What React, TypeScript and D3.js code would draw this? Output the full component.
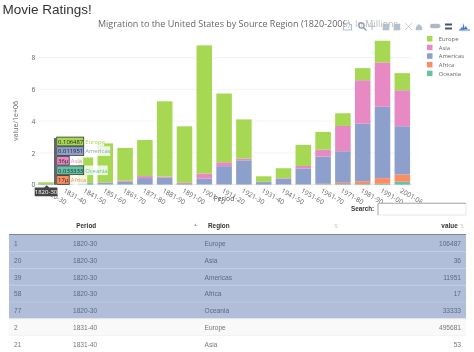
import React from "react";
import * as d3 from "d3";

const periods = ["1820-30","1831-40","1841-50","1851-60","1861-70","1871-80","1881-90","1891-00","1901-10","1911-20","1921-30","1931-40","1941-50","1951-60","1961-70","1971-80","1981-90","1991-00","2001-06"];
const europe = [106487,495681,1597442,2452577,2065141,2271925,4735484,3555352,8056040,4321887,2463194,347566,621147,1325727,1123492,800368,761550,1359737,1073726];
const asia = [36,53,141,41538,64759,124160,69942,74862,323543,247236,112059,16595,37028,153249,427642,1588178,2738157,2795672,2265696];
const americas = [11951,33424,62469,74720,166607,404044,426967,38972,361888,1143671,1516716,160037,354804,996944,1716374,1982735,3615225,4486806,3037000];
const africa = [17,54,55,210,312,358,857,350,7368,8443,6286,1750,7367,14092,28954,80779,176893,354939,450000];
const oceania = [33333,69911,53144,29169,17969,11935,12574,3965,13024,13427,8726,2483,14551,12976,25122,41242,41432,55845,190000];

const regions = ["Europe","Asia","Americas","Africa","Oceania"];
const regionColors = ["#a6d854","#e78ac3","#8da0cb","#fc8d62","#66c2a5"];
const stackOrder = ["Oceania","Africa","Americas","Asia","Europe"];
const seriesByRegion: Record<string, number[]> = { Europe: europe, Asia: asia, Americas: americas, Africa: africa, Oceania: oceania };
const yTicks = [0,2,4,6,8];
const tooltipOrder = ["Europe","Americas","Asia","Oceania","Africa"];

const tableIds = [1,20,39,58,77,2,21];
const tablePeriods = ["1820-30","1820-30","1820-30","1820-30","1820-30","1831-40","1831-40"];
const tableRegions = ["Europe","Asia","Americas","Africa","Oceania","Europe","Asia"];
const tableValues = [106487,36,11951,17,33333,495681,53];

const plotFont = "'Open Sans', 'DejaVu Sans', sans-serif";
const tableFont = "'Liberation Sans', Arial, sans-serif";
const colorOf = d3.scaleOrdinal<string, string>().domain(regions).range(regionColors);

const x = d3.scaleBand<string>().domain(periods).range([36, 412.2]).paddingInner(0.215).paddingOuter(0.107);
const y = d3.scaleLinear().domain([0, 8]).range([184.7, 57.5]);
const rows = periods.map((p, i) => {
  const o: Record<string, number | string> = { period: p };
  regions.forEach((r) => { o[r] = seriesByRegion[r][i]; });
  return o;
});
const stacked = d3.stack<any>().keys(stackOrder)(rows);
const fmtHover = (v: number) => (v < 1000 ? `${v}µ` : (v / 1e6).toFixed(6));
const tipBoxW: Record<string, number> = { Europe: 27, Americas: 27, Asia: 12.5, Oceania: 27, Africa: 12.5 };
const tipLabelW: Record<string, number> = { Europe: 20.5, Americas: 26.5, Asia: 14, Oceania: 24, Africa: 18 };

function Tooltip() {
  const left = 56.7;
  const top = 136.7;
  const h = 9.6;
  return (
    <g fontFamily={plotFont} fontSize={5.9}>
      <line x1={55} x2={55} y1={138} y2={184.7} stroke="#111" strokeWidth={1.3} />
      {tooltipOrder.map((r, i) => {
        const v = seriesByRegion[r][0];
        const yy = top + i * h;
        return (
          <g key={r}>
            <rect x={left + tipBoxW[r]} y={yy} width={tipLabelW[r]} height={h} fill="#fff" fillOpacity={0.8} />
            <rect x={left} y={yy + 0.4} width={tipBoxW[r]} height={h - 0.8} fill={colorOf(r)} stroke="#333" strokeWidth={0.8} />
            <text x={left + 1.4} y={yy + 7} fill="#222">{fmtHover(v)}</text>
            <text x={left + tipBoxW[r] + 1.5} y={yy + 7} fill={colorOf(r)}>{r}</text>
          </g>
        );
      })}
      <path d="M46.7 185.3 l2.5 2.2 h8.2 v8.7 h-22.7 v-8.7 h9.5 z" fill="#444" />
      <text x={46} y={194} textAnchor="middle" fill="#fff" fontSize={6}>{periods[0]}</text>
    </g>
  );
}

function ModeBar() {
  const c = "#b4c0d0";
  return (
    <g>
      <rect x={345} y={19} width={128} height={14} fill="#fff" fillOpacity={0.55} />
      <g fill={c} stroke={c}>
        <path d="M343.5 24.5 h2 l1 -1.5 h2 l1 1.5 h2 v5.5 h-8 z" fill="none" strokeWidth={1.2} />
        <circle cx={361.5} cy={25.5} r={2.6} fill="none" stroke="#8a98aa" strokeWidth={1.2} />
        <path d="M363.5 27.5 l3 3" stroke="#8a98aa" strokeWidth={1.3} />
        <path d="M372 23 v7 M368.5 26.5 h7" strokeWidth={1} />
        <rect x={383} y={24} width={6} height={6} strokeWidth={0.6} />
        <rect x={394} y={24} width={6} height={6} strokeWidth={0.6} />
        <path d="M405 23 l7 7 M412 23 l-7 7" strokeWidth={0.7} fill="none" />
        <path d="M416 27 l3 -3 l3 3 v3 h-6 z" strokeWidth={0.4} />
        <path d="M431 24 h8 l1.5 2 l-1.5 2 h-8 l-1 -2 z" strokeWidth={0.4} fill="#aeb7c2" stroke="#aeb7c2" />
        <rect x={445} y={23.5} width={7} height={2} fill="#44566c" stroke="none" />
        <rect x={445} y={27.5} width={7} height={2} fill="#44566c" stroke="none" />
      </g>
      <path d="M460 30 l1.5 -3 l1 1 l1 -5 l1 5 l1.5 -2 l1 2 l1 1 z" fill="#447adb" />
      <path d="M459 30 h11" stroke="#447adb" strokeWidth={1} />
    </g>
  );
}

function Chart() {
  return (
    <g>
      {yTicks.map((t) => (
        <g key={t} fontFamily={plotFont}>
          <line x1={36} x2={412.2} y1={y(t)} y2={y(t)} stroke={t === 0 ? "#e8e8e8" : "#f3f3f3"} strokeWidth={1} />
          <text x={35.5} y={y(t) + 2.6} textAnchor="end" fontSize={6.8} fill="#666">{t}</text>
        </g>
      ))}
      {stacked.map((s) => (
        <g key={s.key} fill={colorOf(s.key)}>
          {s.map((d: any) => (
            <rect key={d.data.period} x={x(d.data.period)} width={x.bandwidth()} y={y(d[1] / 1e6)} height={Math.max(0, y(d[0] / 1e6) - y(d[1] / 1e6))} />
          ))}
        </g>
      ))}
      {periods.map((p) => (
        <text key={p} transform={`translate(${(x(p) as number) + x.bandwidth() / 2 - 2.8},192) rotate(30)`} fontFamily={plotFont} fontSize={6.7} fill="#666">{p}</text>
      ))}
      <text x={224} y={200.5} textAnchor="middle" fontFamily={plotFont} fontSize={6.8} fill="#555">Period</text>
      <text transform="translate(18,121) rotate(-90)" textAnchor="middle" fontFamily={plotFont} fontSize={7} fill="#666">value/1e+06</text>
      <text x={98} y={26.5} fontFamily={plotFont} fontSize={9} fill="#666">Migration to the United States by Source Region (1820-2006), In Millions</text>
      {regions.map((r, i) => (
        <g key={r}>
          <rect x={427} y={36 + i * 8.65} width={5.5} height={5.5} fill={colorOf(r)} />
          <text x={438.7} y={41 + i * 8.65} fontFamily={plotFont} fontSize={5.9} fill="#666">{r}</text>
        </g>
      ))}
      <ModeBar />
      <Tooltip />
    </g>
  );
}

function DataTable() {
  const top = 235;
  const rowH = 16.75;
  const cols = { id: 14, period: 73, region: 204.5, value: 461 };
  return (
    <g fontFamily={tableFont} fontSize={6.6}>
      <text x={351} y={210.5} fontWeight={700} fill="#333" fontSize={6.3}>Search:</text>
      <rect x={378} y={203.5} width={88} height={11.5} fill="#fff" stroke="#e0e0e0" strokeWidth={0.8} />
      <line x1={378} x2={466} y1={203.2} y2={203.2} stroke="#aaa" strokeWidth={1} />
      <line x1={378} x2={378} y1={203.5} y2={215} stroke="#999" strokeWidth={0.8} />
      <g fontWeight={700} fill="#333" fontSize={6.4}>
        <text x={76.3} y={228}>Period</text>
        <text x={208} y={228}>Region</text>
        <text x={457.7} y={228} textAnchor="end">value</text>
      </g>
      <g fontSize={4.5} fill="#999" textAnchor="middle">
        <text x={195.5} y={226}>▲</text>
        <text x={335.5} y={228} fill="#ccc">⇅</text>
        <text x={462} y={228} fill="#ccc">⇅</text>
      </g>
      <line x1={9} x2={466} y1={234.5} y2={234.5} stroke="#7d8796" strokeWidth={1.2} />
      {tableIds.map((id, i) => {
        const yy = top + i * rowH;
        const selected = i < 5;
        const fill = selected ? "#b0bed9" : i % 2 === 0 ? "#ffffff" : "#f9f9f9";
        const ink = selected ? "#5d6a80" : "#777";
        return (
          <g key={id} fill={ink}>
            <rect x={9} y={yy} width={457} height={rowH} fill={fill} />
            {i > 0 && <line x1={9} x2={466} y1={yy} y2={yy} stroke={selected ? "#c4cfe4" : "#eeeeee"} strokeWidth={0.7} />}
            <text x={cols.id} y={yy + 11}>{id}</text>
            <text x={cols.period} y={yy + 11}>{tablePeriods[i]}</text>
            <text x={cols.region} y={yy + 11}>{tableRegions[i]}</text>
            <text x={cols.value} y={yy + 11} textAnchor="end">{tableValues[i]}</text>
          </g>
        );
      })}
    </g>
  );
}

export default function App() {
  return (
    <svg width={474} height={352} viewBox="0 0 474 352" style={{ position: "absolute", left: 0, top: 0, background: "#fff", filter: "blur(0.3px)" }}>
      <text x={2.5} y={13.7} fontFamily={tableFont} fontSize={13.5} fill="#333">Movie Ratings!</text>
      <Chart />
      <DataTable />
    </svg>
  );
}
